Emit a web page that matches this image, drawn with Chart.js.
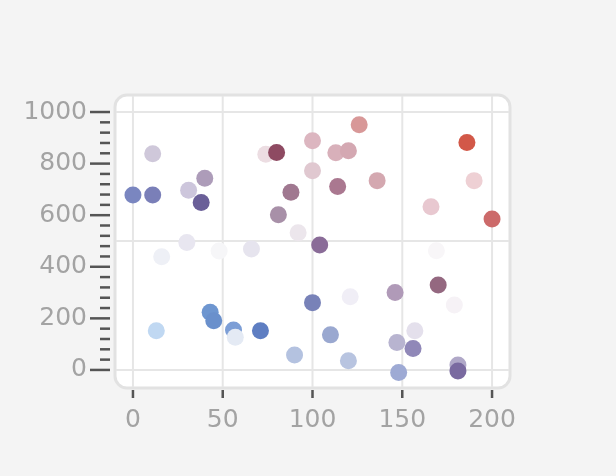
<!DOCTYPE html>
<html><head><meta charset="utf-8">
<script src="https://cdn.jsdelivr.net/npm/chart.js@4"></script>
<style>html,body{margin:0;background:#f4f4f4;}#c{display:block;}</style>
</head><body>
<div style="width:616px;height:476px"><canvas id="c"></canvas></div>
<script>
const xValues=[11,74,80,0,11,40,31,38,88,81,92,30,16,48,66,43,45,13,56,57,71,90,126,100,113,120,100,114,136,186,190,166,200,104,169,170,146,121,179,100,110,157,147,156,120,148,181,181];
const yValues=[838,836,843,678,678,743,697,649,689,602,532,494,439,461,469,224,191,152,155,127,152,58,951,889,842,850,772,711,734,882,734,633,585,484,462,329,300,284,252,261,136,152,106,83,36,-10,19,-4];
const pointColors=['#cfc8da','#ecdde2','#8e4a62','#7a86c0','#7a7fb8','#ad9cb9','#cdc6dc','#6a5f98','#a07890','#a890a8','#ece6ec','#e8e6f0','#eef0f6','#f6f6f8','#e6e4ee','#6e96d0','#6a90cc','#c0d8f2','#7c9ed6','#e4eaf4','#5e7ec2','#b4c2e0','#d89898','#dcb6c0','#d8b0ba','#d4a8b2','#e0c8d0','#aa7890','#d4a8b0','#d25848','#eed0d4','#e8c8d0','#cc6a6a','#8a6c98','#f8f6f8','#946880','#b09ab8','#f0eef6','#f6f2f6','#7882b8','#9aa8d0','#e4e0ec','#b8b4d0','#9088b8','#b8c4e0','#9eaad4','#b0a8c8','#7a6aa0'];
const xTicks=[0,50,100,150,200];
const yMajor=[0,200,400,600,800,1000];
const yGrid=[0,500,1000];
const axisPlugin={id:'axisPlugin',
beforeDatasetsDraw(chart){
 const {ctx,chartArea:a,scales:{x,y}}=chart;
 ctx.save();
 ctx.fillStyle='#fff';ctx.strokeStyle='#e2e2e2';ctx.lineWidth=3;
 ctx.beginPath();ctx.roundRect(a.left,a.top,a.right-a.left,a.bottom-a.top,12);ctx.fill();ctx.stroke();
 ctx.strokeStyle='#e6e6e6';ctx.lineWidth=2;
 xTicks.forEach(v=>{const p=x.getPixelForValue(v);ctx.beginPath();ctx.moveTo(p,a.top+1);ctx.lineTo(p,a.bottom-1);ctx.stroke();});
 yGrid.forEach(v=>{const p=y.getPixelForValue(v);ctx.beginPath();ctx.moveTo(a.left+1,p);ctx.lineTo(a.right-1,p);ctx.stroke();});
 ctx.strokeStyle='#555';ctx.lineWidth=2.5;
 for(let v=0;v<=1000;v+=40){const p=y.getPixelForValue(v);const maj=yMajor.includes(v);ctx.beginPath();ctx.moveTo(maj?90:100,p);ctx.lineTo(110,p);ctx.stroke();}
 xTicks.forEach(v=>{const p=x.getPixelForValue(v);ctx.beginPath();ctx.moveTo(p,390);ctx.lineTo(p,398);ctx.stroke();});
 ctx.fillStyle='#a3a3a3';ctx.font='25px "DejaVu Sans"';
 ctx.textAlign='right';ctx.textBaseline='middle';
 yMajor.forEach(v=>ctx.fillText(String(v),87,y.getPixelForValue(v)));
 ctx.textAlign='center';ctx.textBaseline='middle';
 xTicks.forEach(v=>ctx.fillText(String(v),x.getPixelForValue(v),420));
 ctx.restore();
}};
new Chart(document.getElementById('c'),{type:'scatter',
data:{datasets:[{data:xValues.map((v,i)=>({x:v,y:yValues[i]})),backgroundColor:pointColors,borderWidth:0,pointRadius:8.5,pointHoverRadius:8.5}]},
options:{responsive:true,maintainAspectRatio:false,animation:false,
layout:{padding:{left:115,top:95,right:106,bottom:88}},
plugins:{legend:{display:false},tooltip:{enabled:false}},
scales:{x:{display:false,min:-10,max:210},y:{display:false,min:-70,max:1066}}},
plugins:[axisPlugin]});
</script></body></html>
